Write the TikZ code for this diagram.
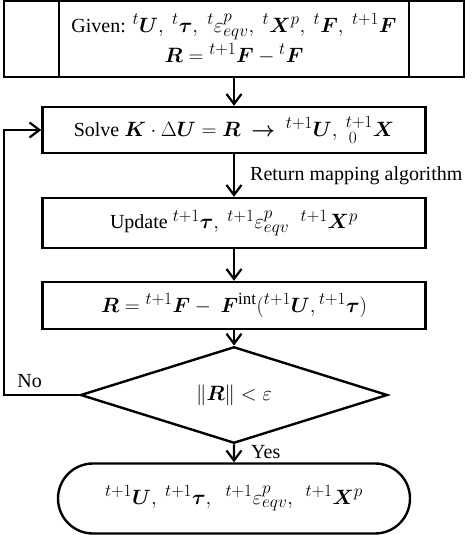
\documentclass[tikz,border=0pt]{standalone}
\usepackage{amsmath,amssymb,bm}
\usepackage{fontspec}
\setmainfont{Liberation Serif}
\DeclareMathSizes{20}{21}{17}{13}
\usepackage{tikz}
\usetikzlibrary{arrows.meta,positioning,shapes.geometric,shapes.misc}
\tikzset{
  flowline/.style={line width=2.4pt},
  flowarrow/.style={flowline,-{Straight Barb[length=10pt,width=15pt,line width=2.2pt]}},
  stepbox/.style={draw,flowline,rectangle,minimum width=383pt,inner sep=0pt,align=center},
  procbox/.style={draw,flowline,rectangle,minimum width=460pt,minimum height=76pt,inner sep=0pt,align=center},
  decision/.style={draw,flowline,diamond,minimum width=307pt,minimum height=76pt,inner sep=0pt},
  terminal/.style={draw,flowline,rounded rectangle,minimum width=352pt,minimum height=70pt,inner sep=0pt},
  flowlabel/.style={inner sep=0pt}
}

\begin{document}
\begin{tikzpicture}[x=1pt,y=-1pt,font=\fontsize{20}{30}\selectfont]
\useasboundingbox (0,0) rectangle (474,535);
% input data
\node[procbox] (given) at (234,39)
  {Given: ${}^{t}\bm{U},\ {}^{t}\bm{\tau},\;{}^{t}\varepsilon^{p}_{eqv},\ {}^{t}\bm{X}^{p},\ {}^{t}\bm{F},\ {}^{t+1}\bm{F}$\\
   $\bm{R} = {}^{t+1}\bm{F} - {}^{t}\bm{F}$};
\draw[flowline] ([xshift=56pt]given.north west) -- ([xshift=56pt]given.south west);
\draw[flowline] ([xshift=-56pt]given.north east) -- ([xshift=-56pt]given.south east);
% iteration
\node[stepbox,minimum height=46pt] (solve) at (234,130)
  {Solve $\bm{K}\cdot\Delta\bm{U} = \bm{R}\ \bm{\rightarrow}\ {}^{t+1}\bm{U},\ {}^{t+1}_{\,0}\bm{X}$};
\node[stepbox,minimum height=50pt] (update) at (234,223)
  {Update ${}^{t+1}\bm{\tau},\ {}^{t+1}\varepsilon^{p}_{eqv}\;\;{}^{t+1}\bm{X}^{p}$};
\node[stepbox,minimum height=47pt] (resid) at (234,305.5)
  {$\bm{R} = {}^{t+1}\bm{F} -\ \bm{F}^{\mathrm{int}}({}^{t+1}\bm{U},{}^{t+1}\bm{\tau})$};
\node[decision] (check) at (234,395) {$\|\bm{R}\| < \varepsilon$};
\node[terminal] (result) at (234,498.5)
  {${}^{t+1}\bm{U},\ {}^{t+1}\bm{\tau},\ \;{}^{t+1}\varepsilon^{p}_{eqv},\;\,{}^{t+1}\bm{X}^{p}$};
\coordinate (loopcorner) at (4,395);
% connectors
\draw[flowarrow] (given) -- (solve);
\draw[flowarrow] (solve) -- node[flowlabel,right=15pt] {Return mapping algorithm} (update);
\draw[flowarrow] (update) -- (resid);
\draw[flowarrow] (resid) -- (check);
\draw[flowarrow] (check) -- node[flowlabel,pos=0.4,right=16pt] {Yes} (result);
\draw[flowarrow] (check.west) -- node[flowlabel,pos=0.66,above=6pt] {No} (loopcorner) |- (solve.west);
\end{tikzpicture}
\end{document}
